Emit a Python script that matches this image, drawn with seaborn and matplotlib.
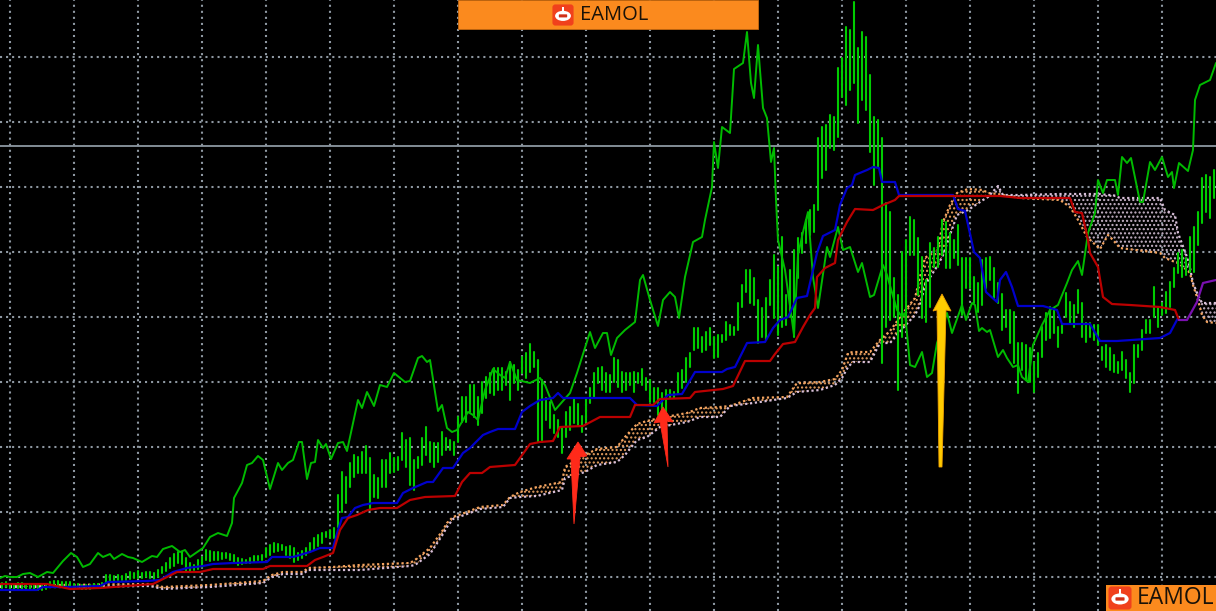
import numpy as np, pandas as pd
import matplotlib
matplotlib.use("Agg")
import matplotlib.pyplot as plt
import seaborn as sns
from matplotlib.patches import Polygon, Rectangle, FancyBboxPatch, Ellipse

# OHLC bar extremes (chart units, scale runs downward)
bar_high = [583,582,584,584,583,583,584,585,584,585, 585,584,582,581,581,582,582,582,584,584,
 585,585,585,584,584,583,575,575,576,575, 576,574,572,573,571,573,572,572,573,570,
 567,563,558,554,552,552,558,563,565,560, 557,550,551,552,552,553,553,554,555,558,
 559,560,558,556,556,555,548,545,543,544, 545,547,546,548,553,551,548,543,538,535,
 533,532,530,528,495,472,477,463,455,457, 452,446,458,475,478,460,460,453,458,457,
 433,440,438,460,457,438,427,442,443,443, 432,438,440,442,417,397,397,385,385,397,
 382,377,373,368,368,368,372,362,365,370, 357,353,344,352,360,380,398,402,415,420,
 428,412,407,399,404,416,398,388,373,368, 367,373,375,358,360,372,373,373,372,373,
 369,378,380,388,388,393,390,390,392,373, 370,358,353,328,328,337,332,328,337,335,
 335,322,325,327,303,285,270,270,278,300, 308,298,280,255,267,237,295,270,250,238,
 233,220,210,205,138,127,125,115,117,68, 58,27,30,2,48,32,37,75,117,120,
 138,203,212,278,295,252,240,217,220,238, 257,280,243,248,237,220,222,233,240,225,
 258,258,258,277,283,260,258,257,268,283, 294,310,310,312,343,343,345,348,362,353,
 327,313,307,308,327,325,293,302,305,290, 303,323,323,325,325,347,345,348,355,362,
 352,360,373,345,345,330,320,320,287,307, 303,292,282,268,253,250,258,237,227,212,
 178,175,177,170]
bar_low = [588,587,589,590,588,589,590,590,590,590, 590,589,587,586,587,586,587,587,588,588,
 589,589,589,588,587,587,583,581,581,580, 580,580,579,578,578,578,577,578,579,577,
 573,571,568,566,563,564,572,571,570,569, 567,560,561,560,560,559,558,560,563,565,
 564,563,563,562,560,560,557,555,552,551, 550,555,558,562,560,558,555,552,550,546,
 543,537,538,538,527,512,503,487,477,473, 473,473,510,497,498,487,487,473,472,470,
 460,467,485,490,468,465,455,462,467,462, 455,450,450,455,442,422,422,412,417,425,
 413,398,393,395,390,390,385,400,383,390, 373,378,372,367,442,442,420,428,433,437,
 453,437,430,423,425,432,422,403,398,383, 390,392,392,382,387,392,390,385,392,383,
 385,390,402,402,415,410,418,398,398,393, 388,382,367,350,348,352,350,345,358,357,
 342,340,335,335,330,307,292,303,305,343, 337,340,305,318,335,327,325,317,337,278,
 253,243,235,232,210,178,170,148,150,137, 97,105,90,83,123,100,110,152,185,167,
 363,327,320,317,390,337,325,255,255,295, 318,322,307,267,267,255,268,268,258,265,
 315,288,288,303,312,305,288,280,298,303, 330,327,343,363,393,370,380,382,392,377,
 357,340,338,333,347,333,317,323,327,313, 337,342,337,340,345,360,367,370,372,373,
 370,378,392,383,357,350,333,333,317,327, 315,313,307,287,273,277,275,272,272,245,
 223,212,218,198]

chikou_t = [0,5,10,17,23,30,38,47,53,63,71,77,83,90,98,103,110,114,122,128,133,142,152,157,163,172,180,185,190,203,210,218,227,232,234,242,247,252,258,263,270,278,282,288,293,299,302,307,311,315,318,323,326,331,338,343,347,358,362,367,374,380,387,394,405,410,418,422,427,430,438,442,447,452,457,468,473,478,485,493,500,505,510,517,530,540,545,555,562,570,577,590,595,603,607,611,617,625,635,640,643,650,658,663,670,675,679,685,693,702,705,712,714,718,722,730,734,743,747,751,754,758,763,767,771,774,776,778,785,794,798,803,808,813,818,827,830,838,843,850,858,862,870,874,883,887,897,902,905,910,915,922,927,932,937,947,952,962,966,972,975,979,982,987,990,998,1003,1007,1013,1018,1022,1028,1033,1042,1050,1058,1067,1072,1078,1082,1088,1095,1098,1103,1107,1115,1118,1122,1127,1131,1140,1143,1150,1155,1162,1168,1172,1174,1179,1188,1193,1195,1200,1210,1216]
chikou_v = [578,576,577,577,574,573,577,572,573,561,553,557,567,564,553,557,554,559,554,557,558,562,556,557,549,546,552,550,557,548,537,533,536,523,498,483,465,463,456,460,489,463,470,463,460,442,442,479,463,462,440,448,444,459,443,442,451,400,408,392,406,385,387,373,382,381,358,356,362,360,411,405,428,432,430,412,415,420,390,369,375,378,362,380,383,378,385,410,402,393,373,332,348,333,333,355,338,330,322,280,275,300,326,300,292,297,318,277,242,237,220,187,142,168,127,133,69,63,32,83,98,45,108,118,162,148,200,240,270,335,255,232,212,277,308,247,257,227,250,247,272,263,297,295,265,275,310,317,313,365,367,352,377,373,343,313,333,305,320,303,305,331,328,332,330,357,350,358,367,365,377,382,345,325,310,305,283,270,261,275,233,213,180,193,180,180,195,157,163,158,202,202,162,170,157,177,172,188,163,171,150,100,85,80,63]

tenkan_t = [0,37,43,67,100,108,147,160,173,187,203,213,233,267,272,293,310,320,333,338,342,348,355,363,373,397,403,413,427,433,443,453,463,470,483,490,498,515,522,530,540,553,558,563,630,637,657,668,682,695,722,727,735,747,765,773,780,788,797,807,817,823,835,840,847,852,855,867,873,879,882,895,899,953,958,965,974,980,986,997,1000,1006,1012,1018,1043,1057,1062,1090,1100,1117,1160,1170,1178]
tenkan_v = [590,590,587,587,586,582,581,580,572,568,566,564,563,562,557,557,552,548,548,530,518,517,508,505,503,503,493,488,482,482,468,468,453,448,435,432,429,429,412,406,400,398,393,398,398,405,406,395,394,372,372,369,367,343,342,328,320,317,298,296,253,236,230,205,188,185,175,170,167,168,182,182,195,195,209,211,252,258,292,302,280,272,287,306,306,310,324,324,341,341,338,333,318]

kijun_t = [0,47,70,100,153,167,177,200,213,263,270,307,315,323,333,340,348,357,368,380,397,410,425,455,462,470,482,490,515,530,540,553,560,583,600,630,635,653,660,690,695,723,733,745,770,775,783,795,803,810,815,817,825,835,838,847,855,873,883,895,899,1000,1020,1070,1075,1082,1088,1090,1098,1103,1112,1130,1160,1175,1179]
kijun_v = [584,584,589,588,584,577,572,572,569,569,566,566,560,557,553,530,518,515,510,508,508,500,497,496,482,473,473,467,465,444,442,441,427,426,417,417,405,405,399,398,392,389,386,361,361,354,344,342,327,315,308,277,268,263,240,222,209,210,205,200,196,196,198,198,212,213,240,253,267,297,304,305,307,310,320]

overlap_t = [1179,1187,1197,1203,1216]
overlap_v = [320,320,302,283,280]

cloud_t = [0,60,150,163,210,263,272,283,303,308,333,360,410,415,430,443,447,453,467,480,503,510,520,537,562,565,585,597,617,625,637,647,660,687,700,720,730,753,787,797,820,835,842,848,853,870,880,890,903,915,920,925,938,943,950,957,968,983,988,998,1003,1020,1060,1070,1077,1087,1100,1108,1113,1120,1160,1165,1175,1178,1187,1190,1193,1198,1202,1207,1216]
span_a = [585,585,584,587,585,581,575,572,572,568,567,565,563,560,548,530,523,517,512,507,505,497,492,487,482,467,455,449,447,437,424,421,418,413,408,407,406,398,397,383,382,379,370,353,352,352,340,331,313,298,277,258,248,222,205,193,189,190,193,194,195,198,200,207,218,237,249,235,240,248,253,258,262,263,270,273,285,300,315,322,323]
span_b = [587,587,586,589,587,583,577,574,574,570,570,570,566,565,554,534,527,519,514,509,507,498,497,496,490,478,472,465,462,455,440,437,427,422,417,417,406,403,398,392,390,385,378,367,362,362,343,343,328,315,305,285,265,255,235,215,210,200,197,186,195,195,194,194,194,194,194,195,195,198,198,210,215,233,257,268,283,295,303,303,303]

grid_t = [10,74,138,202,266,330,394,458,522,586,650,714,778,842,906,970,1034,1098,1162]
grid_v = [57,122,187,252,317,382,447,512,577]
price_line = 146

W, H = 1216, 611
sns.set_theme(style="dark", rc={"axes.facecolor": "black", "figure.facecolor": "black"})
fig = plt.figure(figsize=(W/100, H/100), dpi=100)
ax = fig.add_axes([0, 0, 1, 1])
ax.set_facecolor("black")

# grid
for g in grid_t:
    ax.axvline(g, color="#8e98a2", lw=1.5, ls=(0, (1, 1.9)), zorder=1)
for g in grid_v:
    ax.axhline(g, color="#8e98a2", lw=1.5, ls=(0, (1, 1.9)), zorder=1)
ax.axhline(price_line, color="#8d98a2", lw=1.3, zorder=1.5)

# cloud
t = np.array(cloud_t); a = np.array(span_a, float); b = np.array(span_b, float)
plt.rcParams["hatch.linewidth"] = 1.0
ax.fill_between(t, a, b, where=a <= b, interpolate=True, facecolor="none", edgecolor="#e8a060",
                hatch="....", lw=0, zorder=2)
ax.fill_between(t, a, b, where=a >= b, interpolate=True, facecolor="none", edgecolor="#c8b4c8",
                hatch="....", lw=0, zorder=2)
sns.lineplot(x=cloud_t, y=span_a, ax=ax, sort=False, estimator=None, color="#f4a460", lw=1.6,
             linestyle=(0, (1, 1.2)), zorder=2.2, legend=False)
sns.lineplot(x=cloud_t, y=span_b, ax=ax, sort=False, estimator=None, color="#d8bfd8", lw=1.6,
             linestyle=(0, (1, 1.2)), zorder=2.2, legend=False)

# bars
n = len(bar_high)
bars = pd.DataFrame({"bar": np.tile(np.arange(n), 2),
                     "time": np.tile(np.arange(n) * 4 + 2, 2),
                     "price": bar_high + bar_low})
sns.lineplot(data=bars, x="time", y="price", units="bar", estimator=None, sort=False,
             color="#00cc00", lw=1.5, ax=ax, zorder=3, legend=False)

# indicator lines
joins = dict(solid_joinstyle="round", solid_capstyle="round")
sns.lineplot(x=chikou_t, y=chikou_v, ax=ax, sort=False, estimator=None, color="#00bb00", lw=1.4, zorder=4, legend=False, **joins)
sns.lineplot(x=tenkan_t, y=tenkan_v, ax=ax, sort=False, estimator=None, color="#0000cc", lw=1.6, zorder=5, legend=False, **joins)
sns.lineplot(x=kijun_t, y=kijun_v, ax=ax, sort=False, estimator=None, color="#bb0000", lw=1.6, zorder=5, legend=False, **joins)
sns.lineplot(x=overlap_t, y=overlap_v, ax=ax, sort=False, estimator=None, color="#7a10b0", lw=1.6, zorder=5.5, legend=False, **joins)

ax.set_xlim(0, W); ax.set_ylim(H, 0)
ax.set_xlabel(""); ax.set_ylabel("")
ax.set_xticks([]); ax.set_yticks([])
for s in ax.spines.values():
    s.set_visible(False)

# annotations: arrows
for pts, col, edge in [
    ([(578, 442), (587, 456), (580, 457), (574, 524), (571, 459), (567, 459)], "#ff2a1a", "#ff2a1a"),
    ([(663, 407), (673, 422), (667, 421), (668, 467), (660, 422), (654, 423)], "#ff2a1a", "#ff2a1a"),
    ([(942, 294), (951, 311), (946, 310), (942, 467), (939, 467), (937, 310), (933, 311)], "#ffcc00", "#f0a000"),
]:
    ax.add_patch(Polygon(pts, closed=True, fc=col, ec=edge, lw=0.6, zorder=8))

ORANGE = "#fb8a1e"
def logo(x, y, s):
    ax.add_patch(FancyBboxPatch((x + 0.15*s, y + 0.15*s), 0.7*s, 0.7*s, boxstyle=f"round,pad={0.13*s}",
                                fc="#f0401c", ec="none", zorder=10))
    ax.add_patch(Ellipse((x + 0.5*s, y + 0.54*s), 0.72*s, 0.46*s, fc="white", ec="none", zorder=11))
    ax.add_patch(Rectangle((x + 0.47*s, y + 0.12*s), 0.06*s, 0.2*s, fc="white", ec="none", zorder=11))
    ax.add_patch(FancyBboxPatch((x + 0.34*s, y + 0.5*s), 0.32*s, 0.08*s, boxstyle=f"round,pad={0.03*s}",
                                fc="#d03018", ec="none", zorder=12))

ax.add_patch(Rectangle((458, 0), 300, 29, fc=ORANGE, ec="#c86a10", lw=0.6, zorder=9))
logo(552, 4, 22)
ax.text(580, 15.5, "EAMOL", family="Open Sans", fontsize=14.5, color="#1a1208", va="center", ha="left", zorder=11)

ax.add_patch(Rectangle((1106, 585), 110, 26, fc=ORANGE, ec="none", zorder=9))
logo(1108, 586, 24)
ax.text(1137, 598, "EAMOL", family="Open Sans", fontsize=16.5, color="#1a1208", va="center", ha="left", zorder=11)

fig.savefig("out.png", dpi=100, facecolor="black")
